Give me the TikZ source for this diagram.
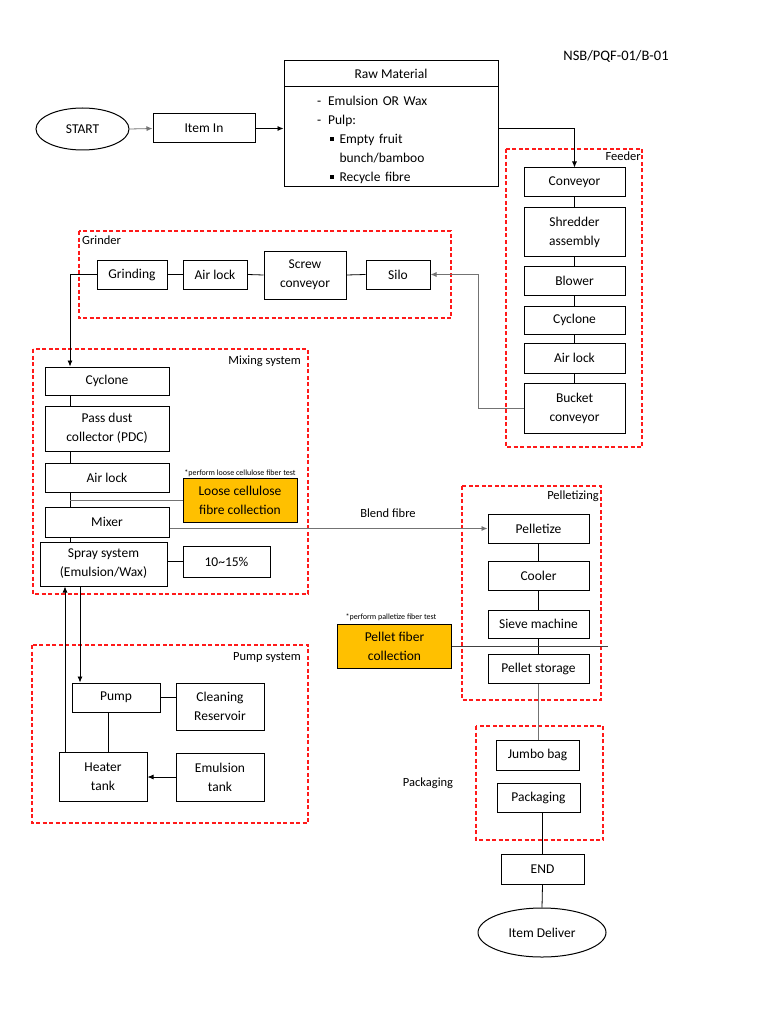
\documentclass[tikz,border=0pt]{standalone}
\usepackage{fontspec}
\setmainfont{Carlito}
\usetikzlibrary{arrows.meta,positioning,shapes.geometric}
\definecolor{fibreorange}{HTML}{FFC000}
\definecolor{framered}{HTML}{FF1A1A}
\newcommand{\sqbullet}{\rule[2.5pt]{3.5pt}{3.5pt}}

\begin{document}
\begin{tikzpicture}[
  x=1pt, y=-1pt,
  box/.style={draw, line width=1pt, align=center, inner sep=1pt,
              font=\fontsize{13.5}{19}\selectfont},
  sz/.style 2 args={minimum width=#1pt, minimum height=#2pt},
  oval/.style={draw, ellipse, line width=1pt, inner sep=0pt,
               font=\fontsize{13.5}{19}\selectfont},
  coll/.style={box, fill=fibreorange},
  grp/.style={draw=framered, line width=1.4pt, dash pattern=on 4pt off 2.5pt},
  grplbl/.style={font=\fontsize{12.5}{15}\selectfont, inner sep=1pt},
  note/.style={font=\fontsize{8}{10}\selectfont, inner sep=1pt},
  arr/.style={-{Latex[length=6pt,width=5pt]}, line width=0.8pt},
  link/.style={line width=0.8pt},
  faint/.style={draw=black!55}
]
\useasboundingbox (0,0) rectangle (768,1024);

\node[font=\fontsize{14.5}{17}\selectfont] (docref) at (616,56) {NSB/PQF-01/B-01};

% top row
\node[oval, minimum width=93pt, minimum height=42pt] (start) at (82.5,129) {START};
\node[box, sz={102}{29}] (itemin) at (204,128.5) {Item In};
\node[box, sz={214}{26}] (rawhead) at (391,74) {Raw Material};
\node[box, minimum height=100pt, below=-1pt of rawhead, text width=148pt,
      inner xsep=33pt, align=left] (rawbody)
  {\rule{0pt}{15pt}-\hspace*{7pt}Emulsion OR Wax\\
   -\hspace*{7pt}Pulp:\\
   \hspace*{13pt}\sqbullet\hspace*{6pt}Empty fruit\\
   \hspace*{22.5pt}bunch/bamboo\\
   \hspace*{13pt}\sqbullet\hspace*{6pt}Recycle fibre};

% feeder
\draw[grp] (506,149) rectangle (642,447);
\node[grplbl, anchor=north east] (feederlbl) at (642,151) {Feeder};
\node[box, sz={101}{29}] (conveyor) at (574.5,182.5) {Conveyor};
\node[box, sz={101}{48}, below=10pt of conveyor] (shredder) {Shredder\\assembly};
\node[box, sz={101}{29}, below=9pt of shredder] (blower) {Blower};
\node[box, sz={101}{28}, below=10pt of blower] (fcyclone) {Cyclone};
\node[box, sz={101}{30}, below=8pt of fcyclone] (fairlock) {Air lock};
\node[box, sz={101}{50}, below=9pt of fairlock] (bucket) {Bucket\\conveyor};

% grinder
\draw[grp] (79,231) rectangle (451,318);
\node[grplbl, anchor=north west] (grinderlbl) at (81,235) {Grinder};
\node[box, sz={70}{29}] (grinding) at (132,274.5) {Grinding};
\node[box, sz={64}{29}] (gairlock) at (215,274.5) {Air lock};
\node[box, sz={82}{48}] (screw) at (305,275) {Screw\\conveyor};
\node[box, sz={64}{29}] (silo) at (398,274.5) {Silo};

% mixing system
\draw[grp] (33,349) rectangle (308,594);
\node[grplbl, anchor=north east] (mixlbl) at (302,355) {Mixing system};
\node[box, sz={124}{28}] (mcyclone) at (107,381) {Cyclone};
\node[box, sz={124}{45}] (pdc) at (107,428.5) {Pass dust\\collector (PDC)};
\node[box, sz={124}{29}] (mairlock) at (107,477.5) {Air lock};
\node[box, sz={124}{30}] (mixer) at (107,522) {Mixer};
\node[box, sz={127}{44}] (spray) at (103.5,564) {Spray system\\(Emulsion/Wax)};
\node[box, sz={87}{31}] (ratio) at (226.5,561.5) {10\textasciitilde15\%};
\node[coll, sz={114}{44}] (loose) at (240,500) {Loose cellulose\\fibre collection};
\node[note, anchor=south] (loosenote) at (240,478) {*perform loose cellulose fiber test};
\coordinate (mcol) at (70,0);

% pelletizing
\draw[grp] (462,486) rectangle (601,700);
\node[grplbl, anchor=north east] (pelletlbl) at (600,490) {Pelletizing};
\node[box, sz={101}{29}] (pelletize) at (538.5,528.5) {Pelletize};
\node[box, sz={101}{29}] (cooler) at (538.5,575.5) {Cooler};
\node[box, sz={101}{28}] (sieve) at (538.5,624) {Sieve machine};
\node[box, sz={101}{29}] (storage) at (538.5,668.5) {Pellet storage};
\node[coll, sz={114}{44}] (pelletfib) at (394.5,646) {Pellet fiber\\collection};
\node[note, anchor=south] (pelletnote) at (391,621.5) {*perform palletize fiber test};
\node[grplbl] (blendlbl) at (388,513) {Blend fibre};
\coordinate (pfend) at (608,646);

% pump system
\draw[grp] (32,645) rectangle (308,823);
\node[grplbl, anchor=north east] (pumplbl) at (302,651) {Pump system};
\node[box, sz={88}{29}] (pump) at (116,697.5) {Pump};
\node[box, sz={88}{47}] (cleaning) at (220,706.5) {Cleaning\\Reservoir};
\node[box, sz={88}{49}] (heater) at (103,776.5) {Heater\\tank};
\node[box, sz={88}{48}] (emulsion) at (220,777) {Emulsion\\tank};
\coordinate (pumpcol) at (108.6,0);
\coordinate (retcol) at (65,0);
\coordinate (feedcol) at (80,0);

% packaging
\draw[grp] (476,726) rectangle (603,840);
\node[grplbl] (packlbl) at (428,783) {Packaging};
\node[box, sz={83}{30}] (jumbo) at (537.5,755) {Jumbo bag};
\node[box, sz={83}{29}] (pack) at (538.5,797.5) {Packaging};
\node[box, sz={83}{30}] (endn) at (542.5,869) {END};
\node[oval, minimum width=128pt, minimum height=49pt] (deliver) at (542,932.5) {Item Deliver};

% connectors
\draw[arr, faint] (start.east) -- (itemin.west);
\draw[arr] (itemin.east) -- (rawbody.west |- itemin.east);
\draw[arr] (rawbody.east |- itemin.east) -| (conveyor.north);
\foreach \a/\b in {conveyor/shredder, shredder/blower, blower/fcyclone,
                   fcyclone/fairlock, fairlock/bucket}
  \draw[link] (\a.south) -- (\b.north);
\coordinate (retx) at (478,0);
\draw[arr, faint] (bucket.west) -- (bucket.west -| retx) |- (silo.east);
\foreach \a/\b in {grinding/gairlock, gairlock/screw, screw/silo}
  \draw[link] (\a.east) -- (\b.west);
\draw[arr] (grinding.west) -| (mcyclone.north -| mcol);
\foreach \a/\b in {mcyclone/pdc, pdc/mairlock, mairlock/mixer, mixer/spray}
  \draw[link] (\a.south -| mcol) -- (\b.north -| mcol);
\draw[link, faint] (loose.west) -- (loose.west -| mcol);
\draw[link] (spray.east |- ratio.west) -- (ratio.west);
\draw[arr, faint] (mixer.east |- pelletize.west) -- (pelletize.west);
\foreach \a/\b in {pelletize/cooler, cooler/sieve, sieve/storage}
  \draw[link] (\a.south) -- (\b.north);
\draw[link, black!75] (pelletfib.east) -- (pfend);
\draw[link] (pump.east) -- (cleaning.west |- pump.east);
\draw[link] (pump.south -| pumpcol) -- (heater.north -| pumpcol);
\draw[arr] (emulsion.west) -- (heater.east |- emulsion.west);
\draw[arr] (heater.north -| retcol) -- (spray.south -| retcol);
\draw[arr] (spray.south -| feedcol) -- (pump.north -| feedcol);
\draw[link, faint] (storage.south) -- (storage.south |- jumbo.north);
\draw[link] (endn.north |- pack.south) -- (endn.north);
\draw[link] (endn.south) -- (deliver.north);
\end{tikzpicture}
\end{document}
